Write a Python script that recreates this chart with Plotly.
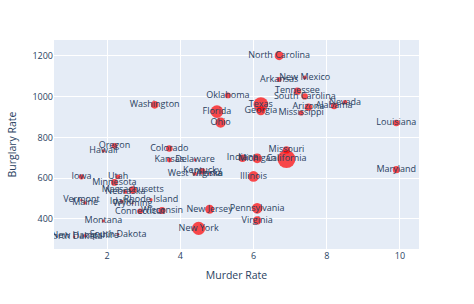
import plotly.graph_objects as go

states = ["Alabama","Alaska","Arizona","Arkansas","California","Colorado","Connecticut","Delaware",
          "Florida","Georgia","Hawaii","Idaho","Illinois","Indiana","Iowa","Kansas","Kentucky",
          "Louisiana","Maine","Maryland","Massachusetts","Michigan","Minnesota","Mississippi",
          "Missouri","Montana","Nebraska","Nevada","New Hampshire","New Jersey","New Mexico",
          "New York","North Carolina","North Dakota","Ohio","Oklahoma","Oregon","Pennsylvania",
          "Rhode Island","South Carolina","South Dakota","Tennessee","Texas","Utah","Vermont",
          "Virginia","Washington","West Virginia","Wisconsin","Wyoming"]
murder = [8.2,4.8,7.5,6.7,6.9,3.7,2.9,4.4,5.0,6.2,1.9,2.4,6.0,5.7,1.3,3.7,4.6,9.9,1.4,9.9,2.7,6.1,
          2.2,7.3,6.9,1.9,2.5,8.5,1.4,4.8,7.4,4.5,6.7,1.1,5.1,5.3,2.2,6.1,3.2,7.4,2.3,7.2,6.2,2.3,
          1.3,6.1,3.3,4.4,3.5,2.7]
burglary = [953.8,622.5,948.4,1084.6,693.3,744.8,437.1,688.9,926.3,931.0,733.6,485.0,608.0,697.6,
            606.4,689.2,634.0,870.6,478.4,641.4,541.1,696.8,578.9,919.7,738.3,389.2,532.4,972.4,
            317.0,447.1,1093.9,353.3,1201.1,311.9,872.8,1006.0,758.6,451.6,494.2,1000.9,324.4,
            1026.9,961.6,606.2,491.8,392.1,959.7,621.2,440.8,476.3]
population = [4545049,669488,5974834,2776221,35795255,4660780,3477416,839906,17783868,9097428,
              1273278,1429096,12712016,6266019,2973700,2748172,4206074,4539130,1319250,5592379,
              6433367,10095643,5167101,2910540,5842704,946795,1755217,2485105,1308389,8703150,
              1969915,19306183,8856505,635867,11464042,3579212,3690505,12440621,1067610,4321249,
              781919,6038803,23507783,2550063,623908,7642884,6395798,1818470,5556506,515004]

size_max = 18
sizeref = 2.0 * max(population) / (size_max ** 2)

fig = go.Figure(go.Scatter(
    x=murder, y=burglary, text=states, mode="markers+text",
    textposition="middle center",
    textfont=dict(size=9, color="#2a3f5f"),
    marker=dict(size=population, sizemode="area", sizeref=sizeref, sizemin=0,
                color="red", opacity=0.7, line=dict(width=0)),
))

fig.update_layout(
    template="plotly",
    width=474, height=304,
    margin=dict(l=54, r=55, t=40, b=55),
    showlegend=False,
    font=dict(family="Open Sans, Arial, sans-serif", size=9, color="#2a3f5f"),
    xaxis=dict(title=dict(text="Murder Rate", font=dict(size=10.5), standoff=10),
               range=[0.55, 10.52],
               tickvals=[2, 4, 6, 8, 10], tickfont=dict(size=9), automargin=False),
    yaxis=dict(title=dict(text="Burglary Rate", font=dict(size=10.5), standoff=13),
               range=[252, 1278],
               tickvals=[400, 600, 800, 1000, 1200], tickfont=dict(size=9), automargin=False),
)

fig.write_html("out.html")
